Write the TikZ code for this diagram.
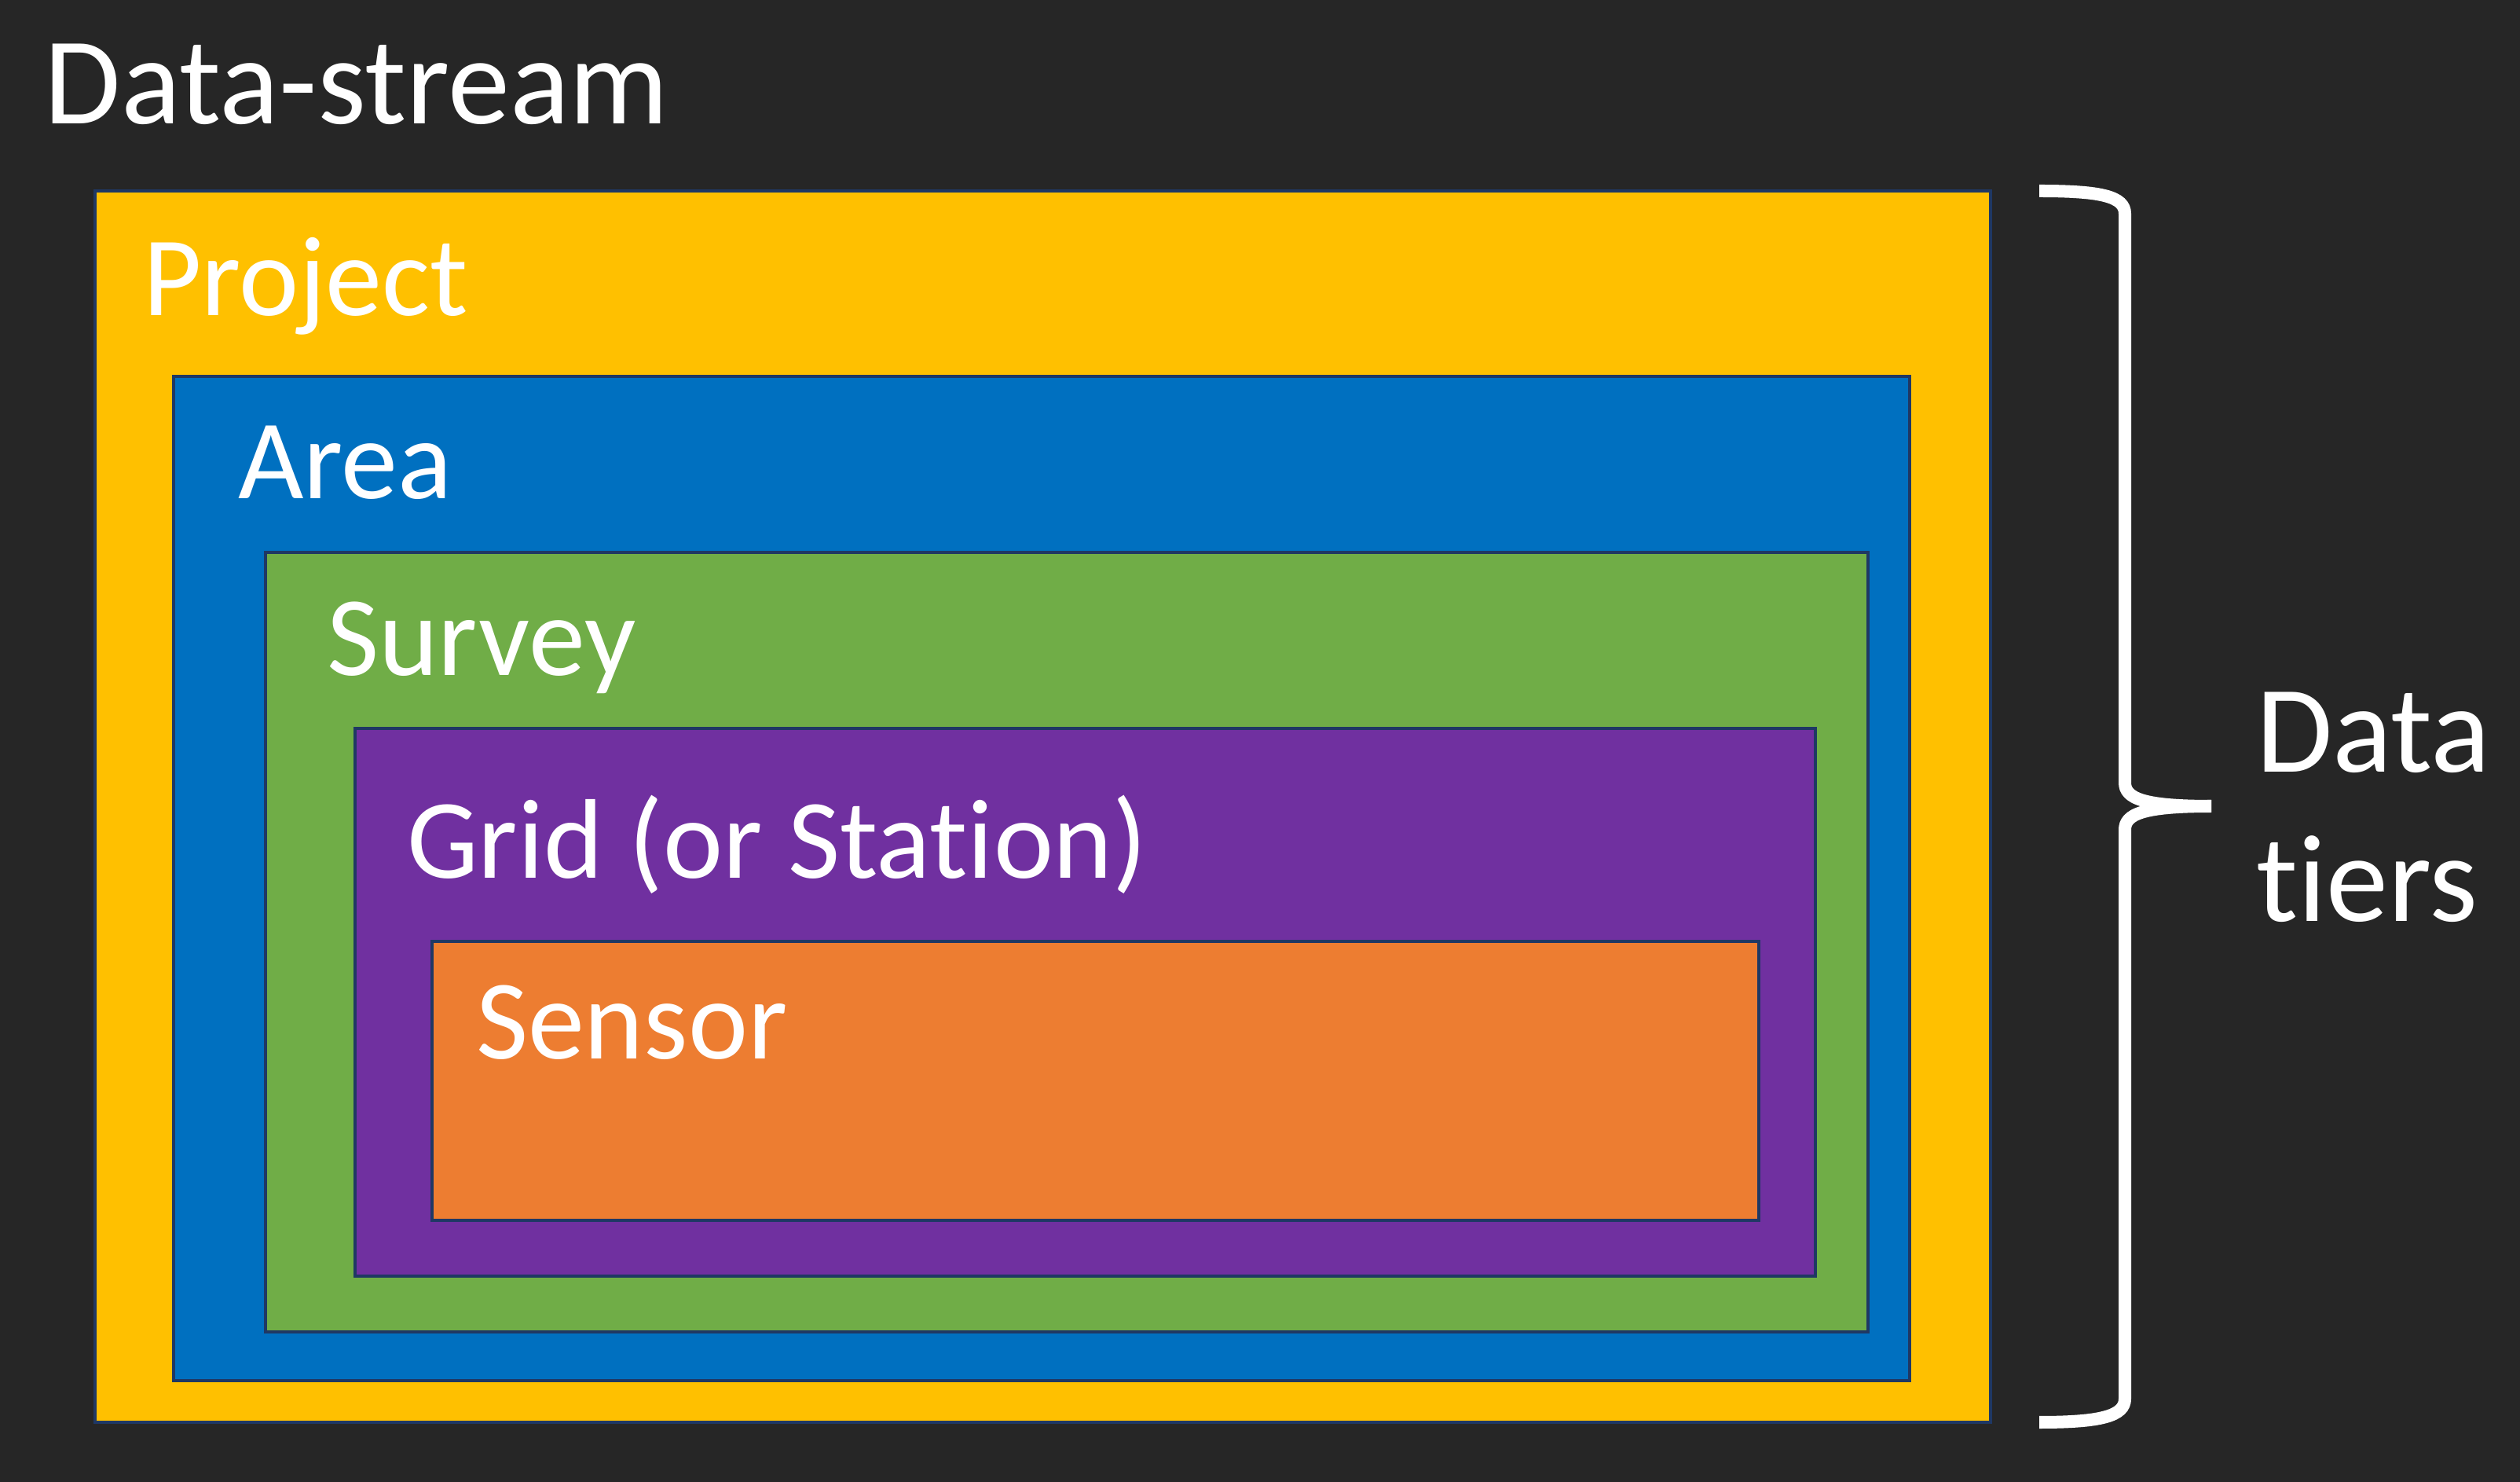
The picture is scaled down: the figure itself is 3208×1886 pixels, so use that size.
\documentclass[tikz,border=0pt]{standalone}
\usepackage{fontspec}
\setmainfont{Carlito}[Ligatures={NoCommon}]
\definecolor{bg}{HTML}{262626}
\definecolor{edge}{HTML}{1F3864}
\definecolor{cproject}{HTML}{FFC000}
\definecolor{carea}{HTML}{0070C0}
\definecolor{csurvey}{HTML}{70AD47}
\definecolor{cgrid}{HTML}{7030A0}
\definecolor{csensor}{HTML}{ED7D31}
\begin{document}
\begin{tikzpicture}[x=0.01cm,y=-0.01cm,
  tier/.style={draw=edge, line width=0.04cm, inner sep=0pt, outer sep=0pt, anchor=center},
  lbl/.style={anchor=base west, inner sep=0pt, outer sep=0pt, text=white, font=\fontsize{41}{49}\selectfont},
  biglbl/.style={lbl, font=\fontsize{45}{54.3}\selectfont},
  bracestroke/.style={draw=white, line width=0.16cm}]
\fill[bg] (0,0) rectangle (3208,1886);
\useasboundingbox (0,0) rectangle (3208,1886);

% nested tiers
\node[tier, fill=cproject, minimum width=24.11cm, minimum height=15.67cm] (project) at (1327.5,1026.5) {};
\node[tier, fill=carea, minimum width=22.08cm, minimum height=12.78cm] (area) at (1326,1118) {};
\node[tier, fill=csurvey, minimum width=20.38cm, minimum height=9.92cm] (survey) at (1358,1199) {};
\node[tier, fill=cgrid, minimum width=18.57cm, minimum height=6.97cm] (grid) at (1381.5,1275.5) {};
\node[tier, fill=csensor, minimum width=16.88cm, minimum height=3.55cm] (sensor) at (1394,1375.5) {};

% labels
\node[biglbl] (title) at (57,158) {Data-stream};
\node[lbl] (tproject) at (182,402) {Project};
\node[lbl] (tarea) at (303,635) {Area};
\node[lbl] (tsurvey) at (416,860) {Survey};
\node[lbl] (tgrid) at (518,1118) {Grid (or Station)};
\node[lbl] (tsensor) at (606,1348) {Sensor};
\node[biglbl, align=left] (tiers) at (2872,1173) {Data\\tiers};

% brace
\coordinate (btop) at (2596,243);
\coordinate (btip) at (2815,1026);
\coordinate (bbot) at (2596,1810);
\draw[bracestroke] (btop) .. controls (2675,243) and (2705,250) .. (2705,272) -- (2705,996) .. controls (2705,1016) and (2728,1026) .. (btip);
\draw[bracestroke] (btip) .. controls (2728,1026) and (2705,1036) .. (2705,1056) -- (2705,1780) .. controls (2705,1802) and (2675,1810) .. (bbot);
\end{tikzpicture}
\end{document}
